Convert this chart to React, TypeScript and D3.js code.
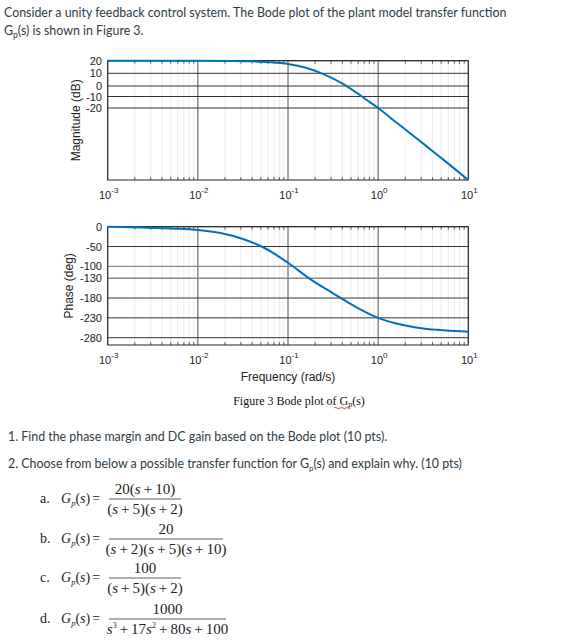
import React from "react";
import * as d3 from "d3";

// ---- data ----
const decadeTicks = [0.001, 0.01, 0.1, 1, 10];
const decadeExp = ["-3", "-2", "-1", "0", "1"];
const magTicks = [20, 10, 0, -10, -20];
const phaseTicks = [0, -50, -100, -130, -180, -230, -280];

const magFreq = [0.001, 0.01, 0.0251, 0.0398, 0.063, 0.1, 0.158, 0.251, 0.398, 0.631, 0.794, 1, 1.58, 2, 3.16, 5.62, 10];
const magDb = [20, 20, 19.8, 19.5, 18.8, 17.4, 14.4, 9.1, 2.0, -8.8, -14.5, -20, -27.9, -31.9, -39.8, -49.8, -60];

const phaseFreq = [0.001, 0.00178, 0.00316, 0.00562, 0.01, 0.0178, 0.0316, 0.0562, 0.1, 0.178, 0.316, 0.562, 1, 1.78, 3.16, 5.62, 10];
const phaseDeg = [0, -1.5, -3, -5, -8.5, -16, -31, -55, -91, -133, -168, -202, -230, -247, -257, -262, -265];

const SANS = "'Liberation Sans', Arial, sans-serif";
const SERIF = "'Liberation Serif', 'Times New Roman', serif";
const LATO = "Lato, 'Open Sans', sans-serif";
const TEXT = "#2d3b45";

const X0 = 107.7, X1 = 468.3;
const x = d3.scaleLog().domain([0.001, 10]).range([X0, X1]);
const yMag = d3.scaleLinear().domain([20, 10, 0, -10, -20, -60]).range([60.7, 73.3, 86, 96.5, 108, 180]);
const yPh = d3.scaleLinear().domain([0, -300]).range([226.7, 345.6]);

const minorTicks = x.ticks().filter((t) => !decadeTicks.some((d) => Math.abs(d - t) / t < 1e-6));

function Panel({ y, ticks, freq, vals, top, bottom, label, labelX }) {
  const line = d3
    .line<number>()
    .x((_, i) => x(freq[i]))
    .y((v) => y(v))
    .curve(d3.curveCatmullRom.alpha(0.5));
  return (
    <g>
      {minorTicks.map((t, i) => (
        <line key={"mg" + i} x1={x(t)} x2={x(t)} y1={top} y2={bottom} stroke="#e6e6e6" strokeWidth={0.8} />
      ))}
      {decadeTicks.map((t, i) => (
        <line key={"Mg" + i} x1={x(t)} x2={x(t)} y1={top} y2={bottom} stroke="#4d4d4d" strokeWidth={1} />
      ))}
      {ticks.map((t, i) => (
        <line key={"hg" + i} x1={X0} x2={X1} y1={y(t)} y2={y(t)} stroke={t === -100 || t === -130 ? "#8a8a8a" : "#333"} strokeWidth={t === -100 || t === -130 ? 1.4 : 1} />
      ))}
      {minorTicks.map((t, i) => (
        <g key={"mt" + i}>
          <line x1={x(t)} x2={x(t)} y1={top} y2={top + 3} stroke="#333" strokeWidth={0.8} />
          <line x1={x(t)} x2={x(t)} y1={bottom} y2={bottom - 3} stroke="#333" strokeWidth={0.8} />
        </g>
      ))}
      <rect x={X0} y={top} width={X1 - X0} height={bottom - top} fill="none" stroke="#262626" strokeWidth={1} />
      <path d={line(vals) || ""} fill="none" stroke="#0072BD" strokeWidth={2} />
      {ticks.map((t, i) => (
        <text key={"yl" + i} x={102} y={y(t) + 4} textAnchor="end" fontFamily={SANS} fontSize={11} fill="#222">
          {t}
        </text>
      ))}
      {decadeTicks.map((t, i) => (
        <text key={"xl" + i} x={x(t) + 1} y={bottom + 19} textAnchor="middle" fontFamily={SANS} fontSize={11} fill="#222">
          10
          <tspan fontSize={8} dy={-6}>{decadeExp[i]}</tspan>
        </text>
      ))}
      <text transform={`translate(${labelX},${(top + bottom) / 2}) rotate(-90)`} textAnchor="middle" fontFamily={SANS} fontSize={12} fill="#222">
        {label}
      </text>
    </g>
  );
}

const FX0 = 109;

function Frac({ label, y, barX1, num, den }) {
  return (
    <g fontFamily={SERIF} fontSize={15} fill="#222">
      <text x={40} y={y + 4} fontSize={14}>{label}</text>
      <text x={61} y={y + 4} fontSize={14}>
        <tspan fontStyle="italic">G</tspan>
        <tspan fontStyle="italic" fontSize={8.5} dy={3}>p</tspan>
        <tspan dy={-3}>(</tspan>
        <tspan fontStyle="italic">s</tspan>
        <tspan>)</tspan>
        <tspan dx={2}>=</tspan>
      </text>
      <line x1={FX0} x2={barX1} y1={y} y2={y} stroke="#333" strokeWidth={0.8} />
      <text x={(FX0 + barX1) / 2} y={y - 5} textAnchor="middle">{num}</text>
      <text x={(FX0 + barX1) / 2} y={y + 15} textAnchor="middle">{den}</text>
    </g>
  );
}

const S = ({ children }) => <tspan fontStyle="italic">{children}</tspan>;
const P = "\u2009+\u2009";

export default function App() {
  return (
    <svg width={567} height={643} style={{ position: "absolute", left: 0, top: 0, background: "#fff" }}>
      <rect width={567} height={643} fill="#fff" />
      <text x={4} y={17} fontFamily={LATO} fontSize={12.4} fill={TEXT}>
        Consider a unity feedback control system. The Bode plot of the plant model transfer function
      </text>
      <text x={4} y={35} fontFamily={LATO} fontSize={12.4} fill={TEXT}>
        G<tspan fontSize={8.5} dy={3}>p</tspan>
        <tspan dy={-3}>(s) is shown in Figure 3.</tspan>
      </text>

      <Panel y={yMag} ticks={magTicks} freq={magFreq} vals={magDb} top={60.7} bottom={180} label="Magnitude (dB)" labelX={80} />
      <Panel y={yPh} ticks={phaseTicks} freq={phaseFreq} vals={phaseDeg} top={226.7} bottom={345} label="Phase (deg)" labelX={73} />

      <text x={288} y={381} textAnchor="middle" fontFamily={SANS} fontSize={12} fill="#222">
        Frequency (rad/s)
      </text>
      <text x={299} y={405} textAnchor="middle" fontFamily={SERIF} fontSize={12} fill="#111">
        Figure 3 Bode plot of G<tspan fontSize={8} dy={2}>p</tspan>
        <tspan dy={-2}>(s)</tspan>
      </text>
      <path d="M334 408 q1.5 -1.5 3 0 t3 0 t3 0 t3 0 t3 0" fill="none" stroke="#e02020" strokeWidth={0.9} />

      <text x={8} y={441} fontFamily={LATO} fontSize={12.4} fill={TEXT}>
        1. Find the phase margin and DC gain based on the Bode plot (10 pts).
      </text>
      <text x={8} y={468} fontFamily={LATO} fontSize={12.4} fill={TEXT}>
        2. Choose from below a possible transfer function for G<tspan fontSize={8} dy={3}>p</tspan>
        <tspan dy={-3}>(s) and explain why. (10 pts)</tspan>
      </text>

      <Frac
        label="a."
        y={499}
        barX1={181}
        num={<>20(<S>s</S>{P}10)</>}
        den={<>(<S>s</S>{P}5)(<S>s</S>{P}2)</>}
      />
      <Frac
        label="b."
        y={539}
        barX1={223}
        num={<>20</>}
        den={<>(<S>s</S>{P}2)(<S>s</S>{P}5)(<S>s</S>{P}10)</>}
      />
      <Frac
        label="c."
        y={578}
        barX1={181}
        num={<>100</>}
        den={<>(<S>s</S>{P}5)(<S>s</S>{P}2)</>}
      />
      <Frac
        label="d."
        y={619}
        barX1={226}
        num={<>1000</>}
        den={
          <>
            <S>s</S>
            <tspan fontSize={8} dy={-6}>3</tspan>
            <tspan dy={6}>{P + "17"}</tspan>
            <S>s</S>
            <tspan fontSize={8} dy={-6}>2</tspan>
            <tspan dy={6}>{P + "80"}</tspan>
            <S>s</S>
            <tspan>{P + "100"}</tspan>
          </>
        }
      />
    </svg>
  );
}
